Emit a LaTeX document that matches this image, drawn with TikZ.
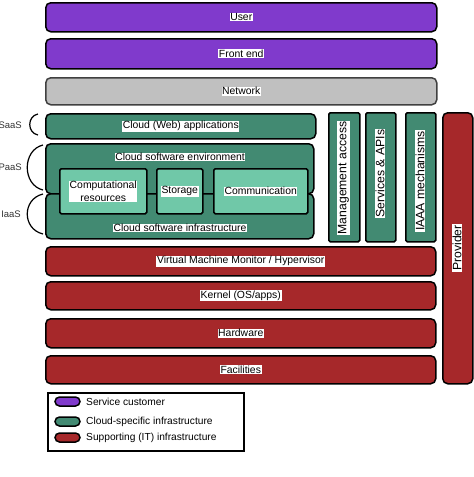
\documentclass[tikz,border=0pt]{standalone}
\usepackage{fontspec}
\setmainfont{Liberation Sans}
\definecolor{cpurple}{RGB}{128,58,204}
\definecolor{cgreen}{RGB}{66,138,114}
\definecolor{clight}{RGB}{112,200,168}
\definecolor{cred}{RGB}{166,40,42}
\definecolor{cgrey}{RGB}{192,192,192}
\tikzset{
  layer/.style={draw=black, line width=1.5pt, rounded corners=5pt, inner sep=0pt, anchor=north west},
  vbar/.style={draw=black, line width=1.5pt, rounded corners=1.5pt, inner sep=0pt, anchor=north west},
  lbl/.style={fill=white, inner sep=0.6pt, font=\fontsize{10.4}{11}\selectfont},
  vlbl/.style={fill=white, inner sep=0.8pt, rotate=90, font=\fontsize{12.2}{13}\selectfont},
  side/.style={inner sep=0pt, anchor=east, font=\fontsize{9.5}{10}\selectfont, text=black!80},
  brace/.style={draw=black, line width=1.2pt},
  swatch/.style={draw=black, line width=1.5pt, rounded corners=4.5pt, minimum width=25pt, minimum height=9pt, inner sep=0pt},
  legtxt/.style={inner sep=0pt, anchor=west, font=\fontsize{10.2}{11}\selectfont}
}
\begin{document}
\begin{tikzpicture}[x=1pt,y=-1pt]
\useasboundingbox (0,0) rectangle (474,477);
% top rows
\node[layer, fill=cpurple, minimum width=391pt, minimum height=29pt] (user) at (45,2) {};
\node[lbl] (userT) at (user.center) {User};
\node[layer, fill=cpurple, minimum width=391pt, minimum height=30pt] (front) at (45,38) {};
\node[lbl] (frontT) at (front.center) {Front end};
\node[layer, fill=cgrey, draw=black!75, minimum width=391pt, minimum height=27pt] (net) at (45,77) {};
\node[lbl] (netT) at (net.center) {Network};
% SaaS
\node[layer, fill=cgreen, minimum width=270pt, minimum height=25pt] (saas) at (45,113) {};
\node[lbl] (saasT) at (saas.center) {Cloud (Web) applications};
% PaaS / IaaS
\node[layer, fill=cgreen, minimum width=268pt, minimum height=50pt] (paas) at (45,143) {};
\node[layer, fill=cgreen, minimum width=268pt, minimum height=45pt] (iaas) at (45,193) {};
\node[lbl] (paasT) at (180,157) {Cloud software environment};
\node[lbl] (iaasT) at (180,228) {Cloud software infrastructure};
\node[vbar, fill=clight, minimum width=87pt, minimum height=45pt] (comp) at (59,168) {};
\node[lbl, align=center, font=\fontsize{10.4}{12.5}\selectfont] (compT) at (comp.center) {Computational\\resources};
\node[vbar, fill=clight, minimum width=46pt, minimum height=45pt] (stor) at (156,168) {};
\node[lbl] (storT) at (stor.center) {Storage};
\node[vbar, fill=clight, minimum width=94pt, minimum height=45pt] (comm) at (213,168) {};
\node[lbl] (commT) at (comm.center) {Communication};
% side labels and braces
\node[side] (saasL) at (22,125) {SaaS};
\node[side] (paasL) at (22,167) {PaaS};
\node[side] (iaasL) at (21,214) {IaaS};
\coordinate (b1a) at (38,114); \coordinate (b1b) at (38,135);
\coordinate (b2a) at (43,145); \coordinate (b2b) at (43,190);
\coordinate (b3a) at (43,194); \coordinate (b3b) at (43,234);
\draw[brace] (b1a) .. controls (27,116) and (27,133) .. (b1b);
\draw[brace] (b2a) .. controls (22,150) and (22,185) .. (b2b);
\draw[brace] (b3a) .. controls (22,199) and (22,229) .. (b3b);
% vertical bars
\node[vbar, fill=cgreen, minimum width=31pt, minimum height=129pt] (mgmt) at (328,112) {};
\node[vlbl] (mgmtT) at (343.5,178) {Management access};
\node[vbar, fill=cgreen, minimum width=30pt, minimum height=129pt] (serv) at (365,112) {};
\node[vlbl] (servT) at (380,173.5) {Services \& APIs};
\node[vbar, fill=cgreen, minimum width=30pt, minimum height=129pt] (iaaa) at (405,112) {};
\node[vlbl] (iaaaT) at (420,181) {IAAA mechanisms};
\node[layer, fill=cred, minimum width=30pt, minimum height=271pt] (prov) at (442,112) {};
\node[vlbl] (provT) at (457,248) {Provider};
% red rows
\node[layer, fill=cred, minimum width=390pt, minimum height=29pt] (vmm) at (45,246) {};
\node[lbl] (vmmT) at (vmm.center) {Virtual Machine Monitor / Hypervisor};
\node[layer, fill=cred, minimum width=390pt, minimum height=28pt] (kern) at (45,281) {};
\node[lbl] (kernT) at (kern.center) {Kernel (OS/apps)};
\node[layer, fill=cred, minimum width=390pt, minimum height=29pt] (hw) at (45,318) {};
\node[lbl] (hwT) at (hw.center) {Hardware};
\node[layer, fill=cred, minimum width=390pt, minimum height=28pt] (fac) at (45,355) {};
\node[lbl] (facT) at (fac.center) {Facilities};
% legend
\node[draw=black, line width=1.5pt, inner sep=0pt, anchor=north west, minimum width=196pt, minimum height=58pt] (legend) at (47,392) {};
\node[swatch, fill=cpurple] (sw1) at (67.5,401.5) {};
\node[swatch, fill=cgreen] (sw2) at (67.5,421.5) {};
\node[swatch, fill=cred] (sw3) at (67.5,437.5) {};
\node[legtxt] (lt1) at (86,402) {Service customer};
\node[legtxt] (lt2) at (86,421.5) {Cloud-specific infrastructure};
\node[legtxt] (lt3) at (86,438) {Supporting (IT) infrastructure};
\end{tikzpicture}
\end{document}
